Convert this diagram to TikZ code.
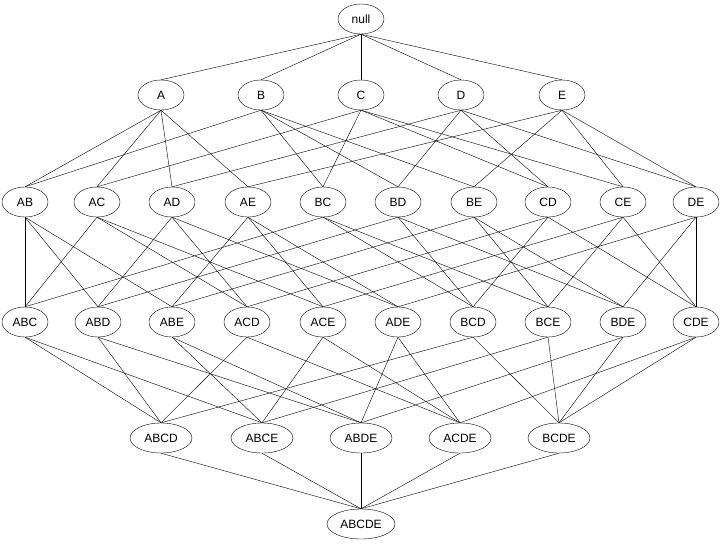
\documentclass[tikz,border=0pt]{standalone}
\usepackage{fontspec}
\setmainfont{Liberation Sans}
\usetikzlibrary{shapes.geometric}
\begin{document}
\begin{tikzpicture}[x=1pt,y=-1pt,
  set/.style={draw,ellipse,minimum width=46pt,minimum height=30pt,inner sep=0pt,font=\fontsize{12}{14}\selectfont},
  big/.style={set,minimum width=62pt},
  huge/.style={set,minimum width=68pt}]
\useasboundingbox (0,0) rectangle (720,544);
\node[set] (null) at (361,19) {null};
\foreach \n/\x in {A/161,B/261,C/361,D/461,E/562} \node[set] (\n) at (\x,95) {\n};
\foreach \n/\x in {AB/25,AC/97,AD/172,AE/248,BC/323,BD/398,BE/474,CD/548,CE/623,DE/696} \node[set] (\n) at (\x,202) {\n};
\foreach \n/\x in {ABC/25,ABD/98,ABE/172,ACD/247,ACE/323,ADE/398,BCD/473,BCE/548,BDE/623,CDE/696} \node[set] (\n) at (\x,322) {\n};
\foreach \n/\x in {ABCD/161,ABCE/262,ABDE/361,ACDE/460,BCDE/559} \node[big] (\n) at (\x,438) {\n};
\node[huge] (ABCDE) at (361,524) {ABCDE};
\foreach \p/\cs in {null/{A,B,C,D,E},
  A/{AB,AC,AD,AE},B/{AB,BC,BD,BE},C/{AC,BC,CD,CE},D/{AD,BD,CD,DE},E/{AE,BE,CE,DE},
  AB/{ABC,ABD,ABE},AC/{ABC,ACD,ACE},AD/{ABD,ACD,ADE},AE/{ABE,ACE,ADE},BC/{ABC,BCD,BCE},
  BD/{ABD,BCD,BDE},BE/{ABE,BCE,BDE},CD/{ACD,BCD,CDE},CE/{ACE,BCE,CDE},DE/{ADE,BDE,CDE},
  ABC/{ABCD,ABCE},ABD/{ABCD,ABDE},ABE/{ABCE,ABDE},ACD/{ABCD,ACDE},ACE/{ABCE,ACDE},
  ADE/{ABDE,ACDE},BCD/{ABCD,BCDE},BCE/{ABCE,BCDE},BDE/{ABDE,BCDE},CDE/{ACDE,BCDE},
  ABCD/{ABCDE},ABCE/{ABCDE},ABDE/{ABCDE},ACDE/{ABCDE},BCDE/{ABCDE}}
  \foreach \c in \cs \draw (\p.south) -- (\c.north);
\end{tikzpicture}
\end{document}
